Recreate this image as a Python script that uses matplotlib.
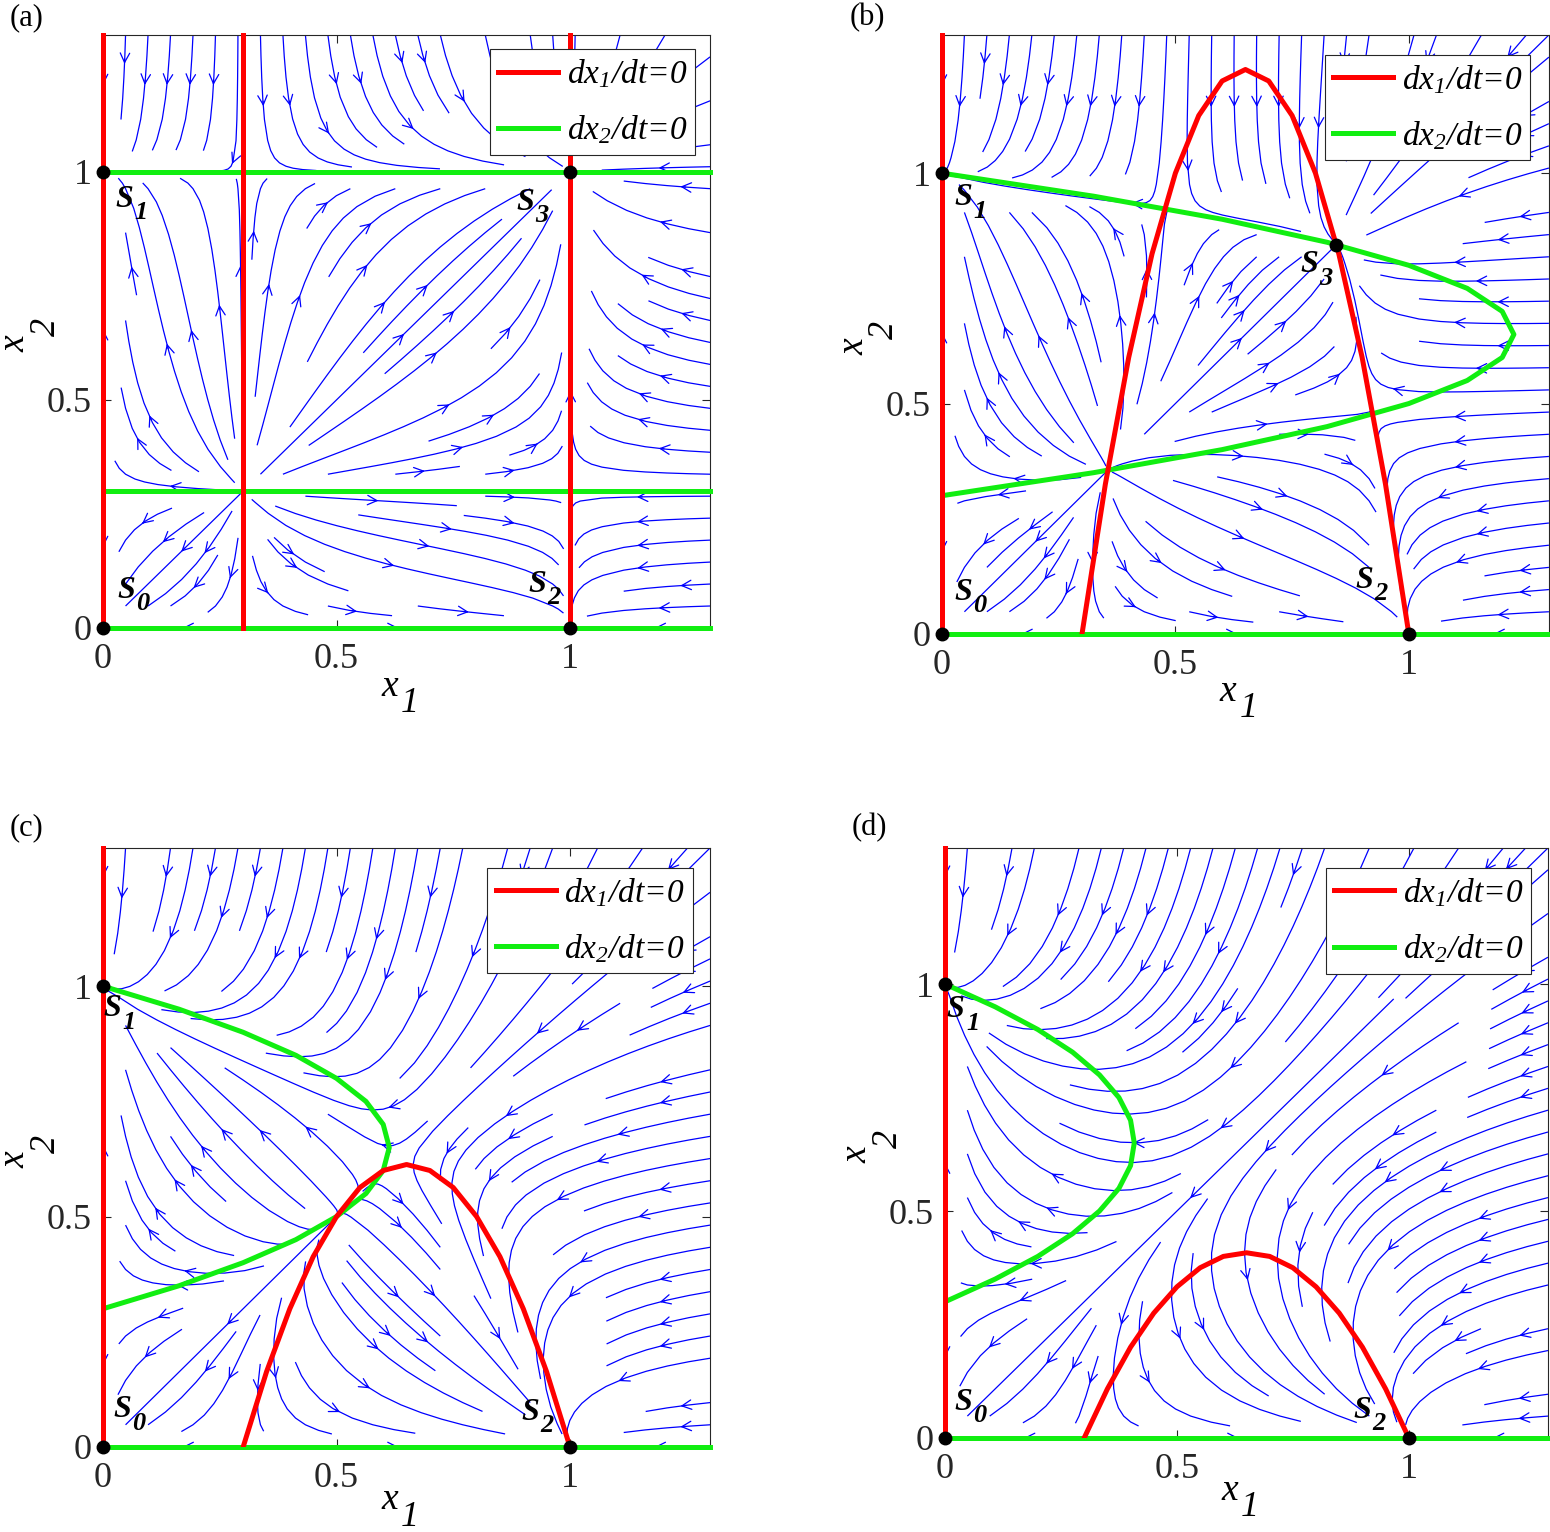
import numpy as np
import matplotlib.pyplot as plt

plt.rcParams['font.family'] = 'Liberation Serif'
plt.rcParams['mathtext.fontset'] = 'custom'
plt.rcParams['mathtext.rm'] = 'Liberation Serif:italic'
plt.rcParams['mathtext.it'] = 'Liberation Serif:italic'
plt.rcParams['mathtext.bf'] = 'Liberation Serif:bold:italic'

# model: dx1/dt = x1[(x1-a)(1-x1) - b x2], dx2/dt = x2[(x2-a)(1-x2) - b x1]
panel_names = ['(a)', '(b)', '(c)', '(d)']
threshold = 0.3
coupling = [0.0, 0.1, 0.2, 0.3]

# nullcline of panel (a): straight lines
lines_a = [0.0, 0.3, 1.0]

# curved dx1/dt=0 nullcline (x1 -> x2); dx2/dt=0 is its mirror
nc_x1 = [0.30, 0.35, 0.40, 0.45, 0.50, 0.55, 0.60, 0.65,
         0.70, 0.75, 0.80, 0.85, 0.90, 0.95, 1.00]
nc_b = [0.0, 0.325, 0.60, 0.825, 1.00, 1.125, 1.20, 1.225,
        1.20, 1.125, 1.00, 0.825, 0.60, 0.325, 0.0]
nc_c = [0.0, 0.163, 0.30, 0.413, 0.50, 0.563, 0.60, 0.613,
        0.60, 0.563, 0.50, 0.413, 0.30, 0.163, 0.0]
nc_d = [0.0, 0.108, 0.20, 0.275, 0.333, 0.375, 0.40, 0.408,
        0.40, 0.375, 0.333, 0.275, 0.20, 0.108, 0.0]
curves = [None, nc_b, nc_c, nc_d]

# equilibria drawn as black dots
dots = [
    [(0, 0), (0, 1), (1, 0), (1, 1)],
    [(0, 0), (0, 1), (1, 0), (0.845, 0.845)],
    [(0, 0), (0, 1), (1, 0)],
    [(0, 0), (0, 1), (1, 0)],
]
# S labels: (index, x1, x2)
s_labels = [
    [('0', 0.030, 0.066), ('1', 0.026, 0.923), ('2', 0.910, 0.079), ('3', 0.885, 0.917)],
    [('0', 0.026, 0.074), ('1', 0.026, 0.930), ('2', 0.885, 0.100), ('3', 0.767, 0.785)],
    [('0', 0.022, 0.065), ('1', 0.000, 0.935), ('2', 0.895, 0.059)],
    [('0', 0.020, 0.062), ('1', 0.004, 0.927), ('2', 0.880, 0.044)],
]

axes_pos = [
    [0.0665, 0.5901, 0.3916, 0.3871],
    [0.6077, 0.5862, 0.3916, 0.3910],
    [0.0665, 0.0555, 0.3916, 0.3910],
    [0.6097, 0.0614, 0.3890, 0.3851],
]
legend_anchor = [(0.6376, 0.976), (0.631, 0.967), (0.633, 0.967), (0.632, 0.966)]
xlabel_y = [-0.114, -0.112, -0.104, -0.105]
panel_label_xy = [(10, 18), (850, 18), (10, 828), (852, 828)]

RED = '#ff0000'
GREEN = '#11ee11'
NC_LW = 3.6


def sub_text(ax, x, y, base, sub, size, subsize, transform, weight='normal', dx=2, dy=6):
    t = ax.text(x, y, base, transform=transform, fontsize=size, style='italic',
                weight=weight, ha='left', va='baseline', zorder=6)
    ax.annotate(sub, xy=(1, 0), xycoords=t, xytext=(dx, dy), textcoords='offset points',
                fontsize=subsize, style='italic', weight=weight, ha='left', va='top',
                zorder=6)


fig = plt.figure(figsize=(15.5, 15.32), dpi=100)

g = np.linspace(0, 1.3, 300)
X1, X2 = np.meshgrid(g, g)

for i in range(4):
    ax = fig.add_axes(axes_pos[i])
    b = coupling[i]
    U = X1 * ((X1 - threshold) * (1 - X1) - b * X2)
    V = X2 * ((X2 - threshold) * (1 - X2) - b * X1)
    ax.streamplot(X1, X2, U, V, density=0.95, color='#0000ff', linewidth=0.9,
                  arrowsize=1.7, arrowstyle='->', zorder=2)

    if i == 0:
        for k, c in enumerate(lines_a):
            ax.plot([0, 1.3], [c, c], color=GREEN, lw=NC_LW, zorder=3, clip_on=False,
                    label='dx$_2$/dt=0' if k == 0 else None)
        for k, c in enumerate(lines_a):
            ax.plot([c, c], [0, 1.3], color=RED, lw=NC_LW, zorder=4, clip_on=False,
                    label='dx$_1$/dt=0' if k == 0 else None)
    else:
        ax.plot([0, 1.3], [0, 0], color=GREEN, lw=NC_LW, zorder=3, clip_on=False)
        ax.plot(curves[i], nc_x1, color=GREEN, lw=NC_LW, zorder=3, label='dx$_2$/dt=0')
        ax.plot([0, 0], [0, 1.3], color=RED, lw=NC_LW, zorder=4, clip_on=False)
        ax.plot(nc_x1, curves[i], color=RED, lw=NC_LW, zorder=4, label='dx$_1$/dt=0')

    px, py = zip(*dots[i])
    ax.plot(px, py, 'o', color='black', ms=9, zorder=5, clip_on=False)

    for idx, sx, sy in s_labels[i]:
        sub_text(ax, sx, sy, 'S', idx, 23, 19, ax.transData, weight='bold', dx=1, dy=9)

    ax.set_xlim(0, 1.3)
    ax.set_ylim(0, 1.3)
    ax.set_xticks([0, 0.5, 1])
    ax.set_yticks([0, 0.5, 1])
    ax.set_xticklabels(['0', '0.5', '1'])
    ax.set_yticklabels(['0', '0.5', '1'])
    ax.tick_params(direction='in', top=True, right=True, labelsize=26, length=6,
                   width=0.8, colors='#262626')
    ax.tick_params(axis='x', pad=11)
    ax.tick_params(axis='y', pad=8)
    for sp in ax.spines.values():
        sp.set_color('#262626')
        sp.set_linewidth(0.8)

    h, l = ax.get_legend_handles_labels()
    order = [l.index('dx$_1$/dt=0'), l.index('dx$_2$/dt=0')]
    leg = ax.legend([h[k] for k in order], [l[k] for k in order], loc='upper left',
                    bbox_to_anchor=legend_anchor[i], borderaxespad=0, fancybox=False,
                    framealpha=1, edgecolor='#262626', handlelength=1.8,
                    handletextpad=0.25, labelspacing=0.7, borderpad=0.25,
                    prop={'family': 'Liberation Serif', 'style': 'italic', 'size': 24})
    leg.get_frame().set_linewidth(0.8)
    leg.set_zorder(10)

    # axis labels
    sub_text(ax, 0.458, xlabel_y[i], 'x', '1', 27, 26, ax.transAxes, dx=2, dy=12)
    ty = ax.text(-0.145, 0.48, 'x', transform=ax.transAxes, fontsize=27, style='italic',
                 rotation=90, ha='center', va='center')
    ax.annotate('2', xy=(1, 1), xycoords=ty, xytext=(-2, -1), textcoords='offset points',
                fontsize=26, style='italic', rotation=90, ha='left', va='bottom')

    fig.text(panel_label_xy[i][0] / 1550, 1 - panel_label_xy[i][1] / 1532, panel_names[i],
             fontsize=22, ha='left', va='center')

fig.savefig('out.png', dpi=100)
